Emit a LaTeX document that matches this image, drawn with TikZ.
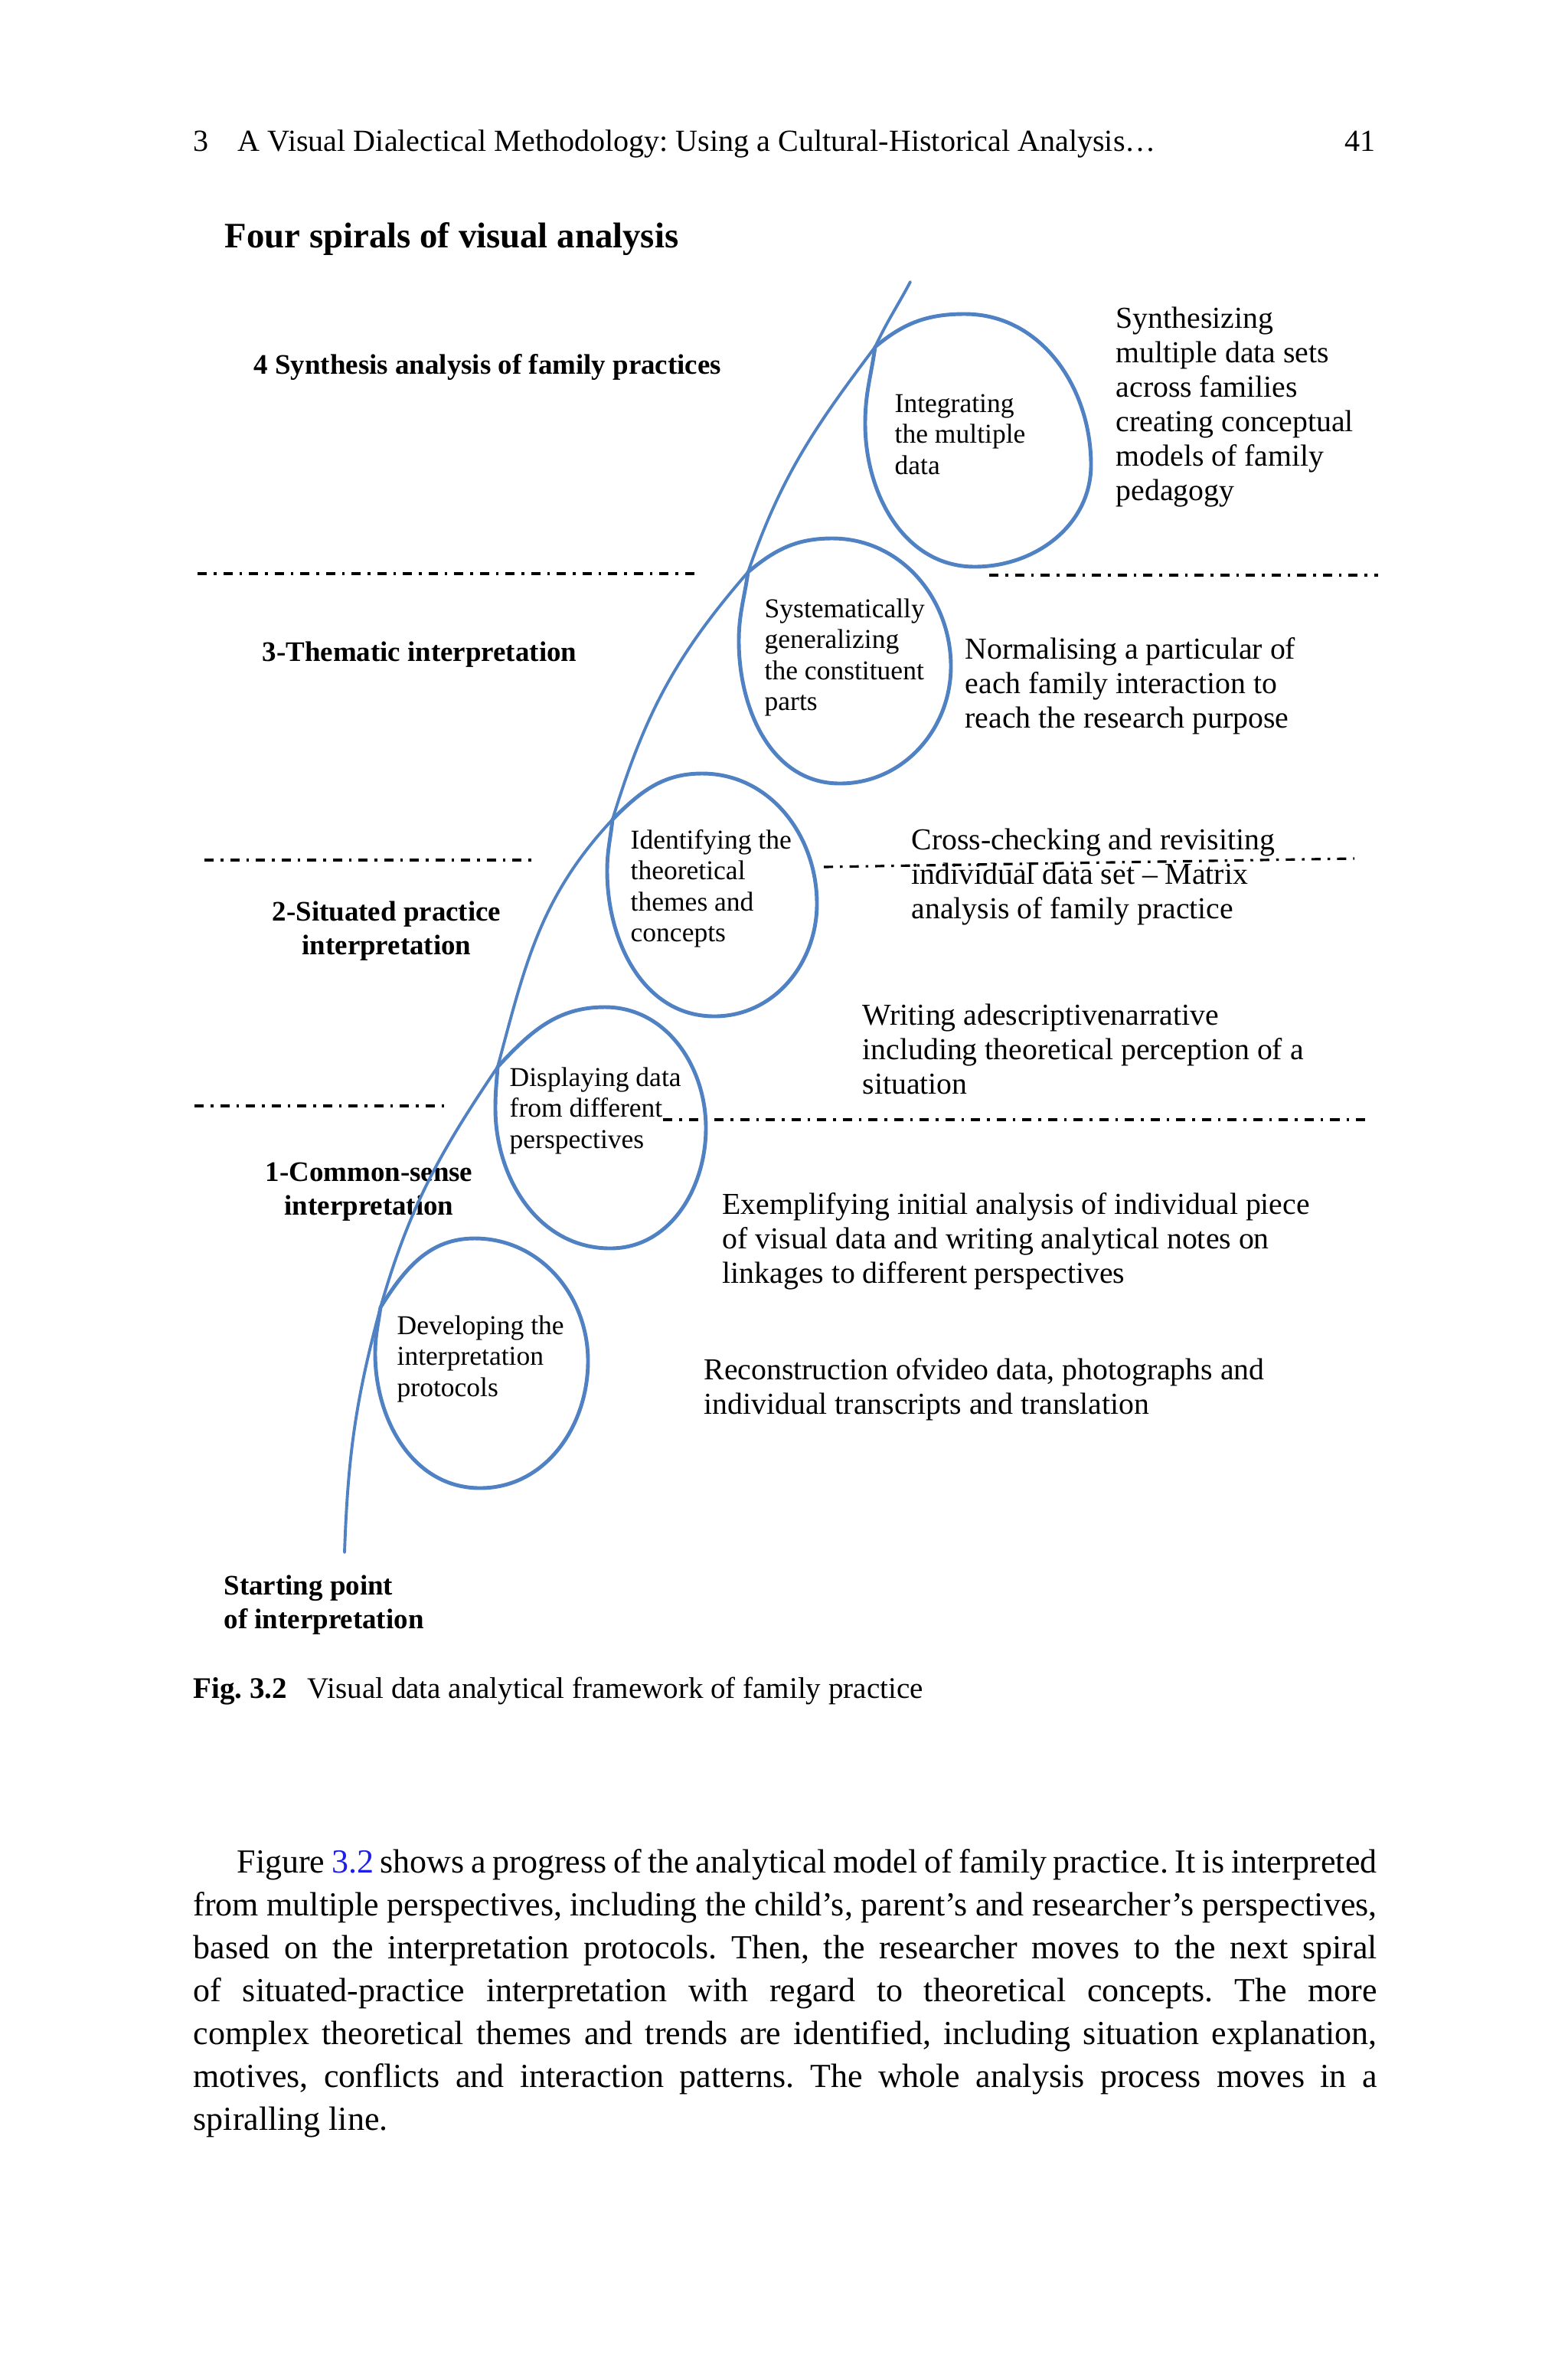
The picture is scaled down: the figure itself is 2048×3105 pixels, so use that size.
\documentclass[tikz,border=0pt]{standalone}
\usepackage{fontspec}
\setmainfont{Liberation Serif}
\frenchspacing
\newcommand{\mytl}[1]{\begin{tabular}[t]{@{}l@{}}#1\end{tabular}}
\newcommand{\mytc}[1]{\begin{tabular}[t]{@{}c@{}}#1\end{tabular}}
\definecolor{spiralblue}{RGB}{79,129,195}
\definecolor{linkblue}{RGB}{30,30,235}
\tikzset{
  looptext/.style={anchor=base west, inner sep=0pt, font=\fontsize{10.1}{11.55}\selectfont},
  desctext/.style={anchor=base west, inner sep=0pt, font=\fontsize{11.3}{12.8}\selectfont},
  leveltext/.style={inner sep=0pt, font=\fontsize{10.5}{12.7}\selectfont\bfseries},
  levelline/.style={line width=0.9pt, dash pattern=on 0.12cm off 0.09cm on 0.035cm off 0.09cm},
  loopline/.style={draw=spiralblue, line width=1.4pt, line cap=round, line join=round},
  stemline/.style={draw=spiralblue, line width=1.1pt, line cap=round, line join=round},
  bodytext/.style={anchor=base west, inner sep=0pt, font=\fontsize{12.5}{15}\selectfont},
  headtext/.style={anchor=base west, inner sep=0pt, font=\fontsize{11.4}{13}\selectfont},
  captext/.style={anchor=base west, inner sep=0pt, font=\fontsize{11.1}{13}\selectfont},
}
\begin{document}
\begin{tikzpicture}[x=0.01cm,y=0.01cm]
\fill[white] (0,0) rectangle (2048,-3105);
\useasboundingbox (0,0) rectangle (2048,-3105);

% running head
\node[headtext] (hnum) at (252,-197) {3};
\node[headtext] (htitle) at (310,-197) {A Visual Dialectical Methodology: Using a Cultural-Historical Analysis…};
\node[headtext, anchor=base east] (hpage) at (1797,-197) {41};

% figure title
\node[anchor=base west, inner sep=0pt, font=\fontsize{13.3}{16}\selectfont\bfseries] (ftitle) at (293,-323) {Four spirals of visual analysis};

% level labels
\node[leveltext, anchor=base west] (lev4) at (331,-488) {4 Synthesis analysis of family practices};
\node[leveltext, anchor=base west] (lev3) at (342,-863) {3-Thematic interpretation};
\node[leveltext, anchor=base] (lev2) at (505,-1202) {\mytc{2-Situated practice\\interpretation}};
\node[leveltext, anchor=base] (lev1) at (482,-1542) {\mytc{1-Common-sense\\interpretation}};
\node[leveltext, anchor=base west] (lev0) at (292,-2082) {\mytl{Starting point\\of interpretation}};

% dash-dot level separators
\coordinate (d4a) at (258,-749);  \coordinate (d4b) at (915,-749);
\coordinate (d4c) at (1292,-751); \coordinate (d4d) at (1800,-751);
\coordinate (d3a) at (267,-1123); \coordinate (d3b) at (699,-1123);
\coordinate (d3c) at (1076,-1132); \coordinate (d3d) at (1769,-1121);
\coordinate (d2a) at (254,-1444); \coordinate (d2b) at (580,-1444);
\coordinate (d2c) at (866,-1462); \coordinate (d2d) at (1783,-1462);
\draw[levelline] (d4a) -- (d4b);
\draw[levelline] (d4c) -- (d4d);
\draw[levelline] (d3a) -- (d3b);
\draw[levelline] (d3c) -- (d3d);
\draw[levelline] (d2a) -- (d2b);
\draw[levelline] (d2c) -- (d2d);

% spiral key points
\coordinate (s) at (450,-2027);
\coordinate (c1) at (497,-1707); \coordinate (t1) at (620,-1617); \coordinate (r1) at (768,-1777); \coordinate (b1) at (627,-1943); \coordinate (l1) at (490,-1767);
\coordinate (c2) at (650,-1393); \coordinate (t2) at (790,-1315); \coordinate (r2) at (922,-1473); \coordinate (b2) at (797,-1630); \coordinate (l2) at (647,-1447);
\coordinate (c3) at (800,-1070); \coordinate (t3) at (917,-1010); \coordinate (r3) at (1067,-1180); \coordinate (b3) at (933,-1327); \coordinate (l3) at (793,-1137);
\coordinate (c4) at (977,-747);  \coordinate (t4) at (1087,-703); \coordinate (r4) at (1242,-870); \coordinate (b4) at (1097,-1023); \coordinate (l4) at (965,-837);
\coordinate (c5) at (1143,-453); \coordinate (t5) at (1260,-410); \coordinate (r5) at (1425,-607); \coordinate (b5) at (1273,-740); \coordinate (l5) at (1130,-553);
\coordinate (e) at (1189,-368);

% stem
\draw[stemline] (s) to[out=88,in=255] (c1) to[out=74,in=236] (c2) to[out=75,in=227] (c3)
  to[out=73,in=229] (c4) to[out=71,in=233] (c5) to[out=65,in=242] (e);
% loops
\draw[loopline] (c1) to[out=58,in=180] (t1) to[out=0,in=90] (r1) to[out=-90,in=0] (b1) to[out=180,in=-90] (l1) to[out=90,in=262] (c1);
\draw[loopline] (c2) to[out=47,in=180] (t2) to[out=0,in=90] (r2) to[out=-90,in=0] (b2) to[out=180,in=-90] (l2) to[out=90,in=266] (c2);
\draw[loopline] (c3) to[out=45,in=180] (t3) to[out=0,in=90] (r3) to[out=-90,in=0] (b3) to[out=180,in=-90] (l3) to[out=90,in=264] (c3);
\draw[loopline] (c4) to[out=40,in=180] (t4) to[out=0,in=90] (r4) to[out=-90,in=0] (b4) to[out=180,in=-90] (l4) to[out=90,in=262] (c4);
\draw[loopline] (c5) to[out=40,in=180] (t5) to[out=0,in=90] (r5) to[out=-90,in=0] (b5) to[out=180,in=-90] (l5) to[out=90,in=262] (c5);

% loop texts
\node[looptext] (n1) at (518,-1742) {\mytl{Developing the\\interpretation\\protocols}};
\node[looptext] (n2) at (665,-1418) {\mytl{Displaying data\\from different\\perspectives}};
\node[looptext] (n3) at (823,-1108) {\mytl{Identifying the\\theoretical\\themes and\\concepts}};
\node[looptext] (n4) at (998,-806) {\mytl{Systematically\\generalizing\\the constituent\\parts}};
\node[looptext] (n5) at (1168,-538) {\mytl{Integrating\\the multiple\\data}};

% descriptions
\node[desctext] (x5) at (1457,-428) {\mytl{Synthesizing\\multiple data sets\\across families\\creating conceptual\\models of family\\pedagogy}};
\node[desctext] (x4) at (1260,-860) {\mytl{Normalising a particular of\\each family interaction to\\reach the research purpose}};
\node[desctext] (x3) at (1190,-1109) {\mytl{Cross-checking and revisiting\\individual data set – Matrix\\analysis of family practice}};
\node[desctext] (x2) at (1126,-1338) {\mytl{Writing adescriptivenarrative\\including theoretical perception of a\\situation}};
\node[desctext] (x1) at (943,-1585) {\mytl{Exemplifying initial analysis of individual piece\\of visual data and writing analytical notes on\\linkages to different perspectives}};
\node[desctext] (x0) at (919,-1801) {\mytl{Reconstruction ofvideo data, photographs and\\individual transcripts and translation}};

% caption
\node[captext, font=\fontsize{11.1}{13}\selectfont\bfseries] (cap1) at (252,-2217) {Fig. 3.2};
\node[captext] (cap2) at (401,-2217) {Visual data analytical framework of family practice};

% body paragraph
\node[bodytext] (p1) at (309,-2445) {\makebox[14.88cm][s]{Figure \textcolor{linkblue}{3.2} shows a progress of the analytical model of family practice. It is interpreted}};
\node[bodytext] (p2) at (252,-2501) {\makebox[15.45cm][s]{from multiple perspectives, including the child’s, parent’s and researcher’s perspectives,}};
\node[bodytext] (p3) at (252,-2557) {\makebox[15.45cm][s]{based on the interpretation protocols. Then, the researcher moves to the next spiral}};
\node[bodytext] (p4) at (252,-2613) {\makebox[15.45cm][s]{of situated-practice interpretation with regard to theoretical concepts. The more}};
\node[bodytext] (p5) at (252,-2669) {\makebox[15.45cm][s]{complex theoretical themes and trends are identified, including situation explanation,}};
\node[bodytext] (p6) at (252,-2725) {\makebox[15.45cm][s]{motives, conflicts and interaction patterns. The whole analysis process moves in a}};
\node[bodytext] (p7) at (252,-2781) {spiralling line.};
\end{tikzpicture}
\end{document}
